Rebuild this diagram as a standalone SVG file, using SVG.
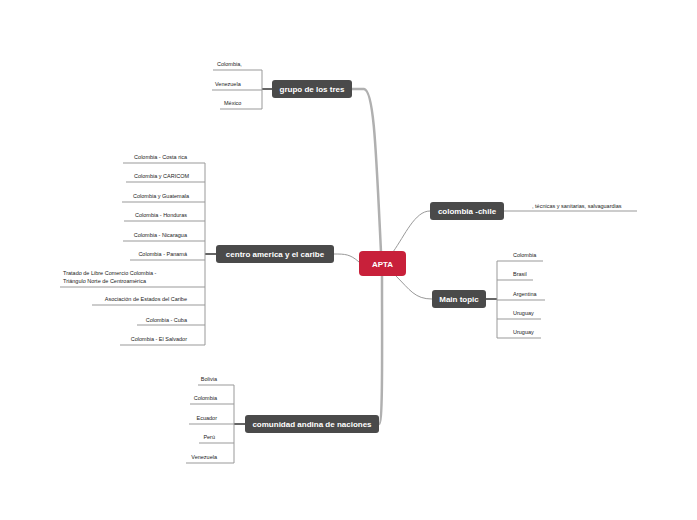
<svg xmlns="http://www.w3.org/2000/svg" width="697" height="520" viewBox="0 0 697 520">
<style>
.n{fill:#4a4a4a}
.nt{fill:#fff;font-family:"Liberation Sans",Arial,sans-serif;font-size:8px;font-weight:bold;text-anchor:middle}
.t{fill:#222;font-family:"Liberation Sans",Arial,sans-serif;font-size:5.5px}
.e{text-anchor:end}
.l{stroke:#999;stroke-width:1;fill:none}
.m{stroke:#b0b0b0;stroke-width:2.5;fill:none}
.k{stroke:#333;stroke-width:1.5;fill:none}
</style>
<rect width="697" height="520" fill="#fff"/>
<g id="connectors">
<path class="m" d="M381 252 C376 150 374 90 364 89 L352 89"/>
<path class="m" d="M382 276 C382 350 383 424 379 424"/>
<path class="l" d="M359 262 C350 254 345 254 334 254"/>
<path class="l" stroke-width="1.5" d="M393 252 C405 235 415 211 430 211"/>
<path class="l" stroke-width="1.5" d="M396 276 C410 290 415 299 432 299"/>
<path class="k" d="M272 89 L262 89"/>
<path class="l" d="M262 70 V109 M262 70 H213 M262 90 H212 M262 109 H220"/>
<path class="l" d="M504 211 H637"/>
<path class="k" d="M486 299 H497"/>
<path class="l" d="M497 261 V338 M497 261 H543 M497 280 H533 M497 300 H545 M497 319 H541 M497 338 H541"/>
<path class="k" d="M216 254 H205"/>
<path class="l" d="M205 163 V345 M205 163 H123 M205 182 H126 M205 202 H122 M205 221 H124 M205 241 H123 M205 260 H130 M205 287 H60 M205 305 H92 M205 325 H137 M205 345 H120"/>
<path class="k" d="M245 424 H234"/>
<path class="l" d="M234 385 V463 M234 385 H198 M234 404 H190 M234 424 H189 M234 443 H199 M234 463 H186"/>
</g>
<g id="apta"><rect x="359" y="251" width="47" height="25" rx="4" fill="#c8203a"/><text class="nt" x="382.5" y="267" font-size="9">APTA</text></g>
<g id="grupo"><rect class="n" x="272" y="80" width="80" height="18" rx="3"/><text class="nt" x="312" y="92">grupo de los tres</text>
<text class="t" x="217" y="66">Colombia,</text><text class="t" x="215" y="86">Venezuela</text><text class="t" x="224" y="105">México</text></g>
<g id="chile"><rect class="n" x="430" y="202" width="74" height="18" rx="3"/><text class="nt" x="467" y="214">colombia -chile</text>
<text class="t" x="532" y="208">, técnicas y sanitarias, salvaguardias</text></g>
<g id="main"><rect class="n" x="432" y="290" width="54" height="18" rx="3"/><text class="nt" x="459" y="302">Main topic</text>
<text class="t" x="513" y="257">Colombia</text><text class="t" x="513" y="276">Brasil</text><text class="t" x="513" y="296">Argentina</text><text class="t" x="513" y="315">Uruguay</text><text class="t" x="513" y="334">Uruguay</text></g>
<g id="centro"><rect class="n" x="216" y="245" width="118" height="18" rx="3"/><text class="nt" x="275" y="257">centro america y el caribe</text>
<text class="t e" x="187" y="159">Colombia - Costa rica</text>
<text class="t e" x="189" y="178">Colombia y CARICOM</text>
<text class="t e" x="189" y="198">Colombia y Guatemala</text>
<text class="t e" x="187" y="217">Colombia - Honduras</text>
<text class="t e" x="187" y="237">Colombia - Nicaragua</text>
<text class="t e" x="187" y="256">Colombia - Panamá</text>
<text class="t" x="63" y="275">Tratado de Libre Comercio Colombia -</text>
<text class="t" x="63" y="283">Triángulo Norte de Centroamérica</text>
<text class="t e" x="187" y="301">Asociación de Estados del Caribe</text>
<text class="t e" x="187" y="322">Colombia - Cuba</text>
<text class="t e" x="187" y="341">Colombia - El Salvador</text></g>
<g id="andina"><rect class="n" x="245" y="415" width="134" height="18" rx="3"/><text class="nt" x="312" y="427">comunidad andina de naciones</text>
<text class="t e" x="217" y="381">Bolivia</text><text class="t e" x="217" y="400">Colombia</text><text class="t e" x="217" y="420">Ecuador</text><text class="t e" x="215" y="439">Perú</text><text class="t e" x="217" y="459">Venezuela</text></g>
</svg>
